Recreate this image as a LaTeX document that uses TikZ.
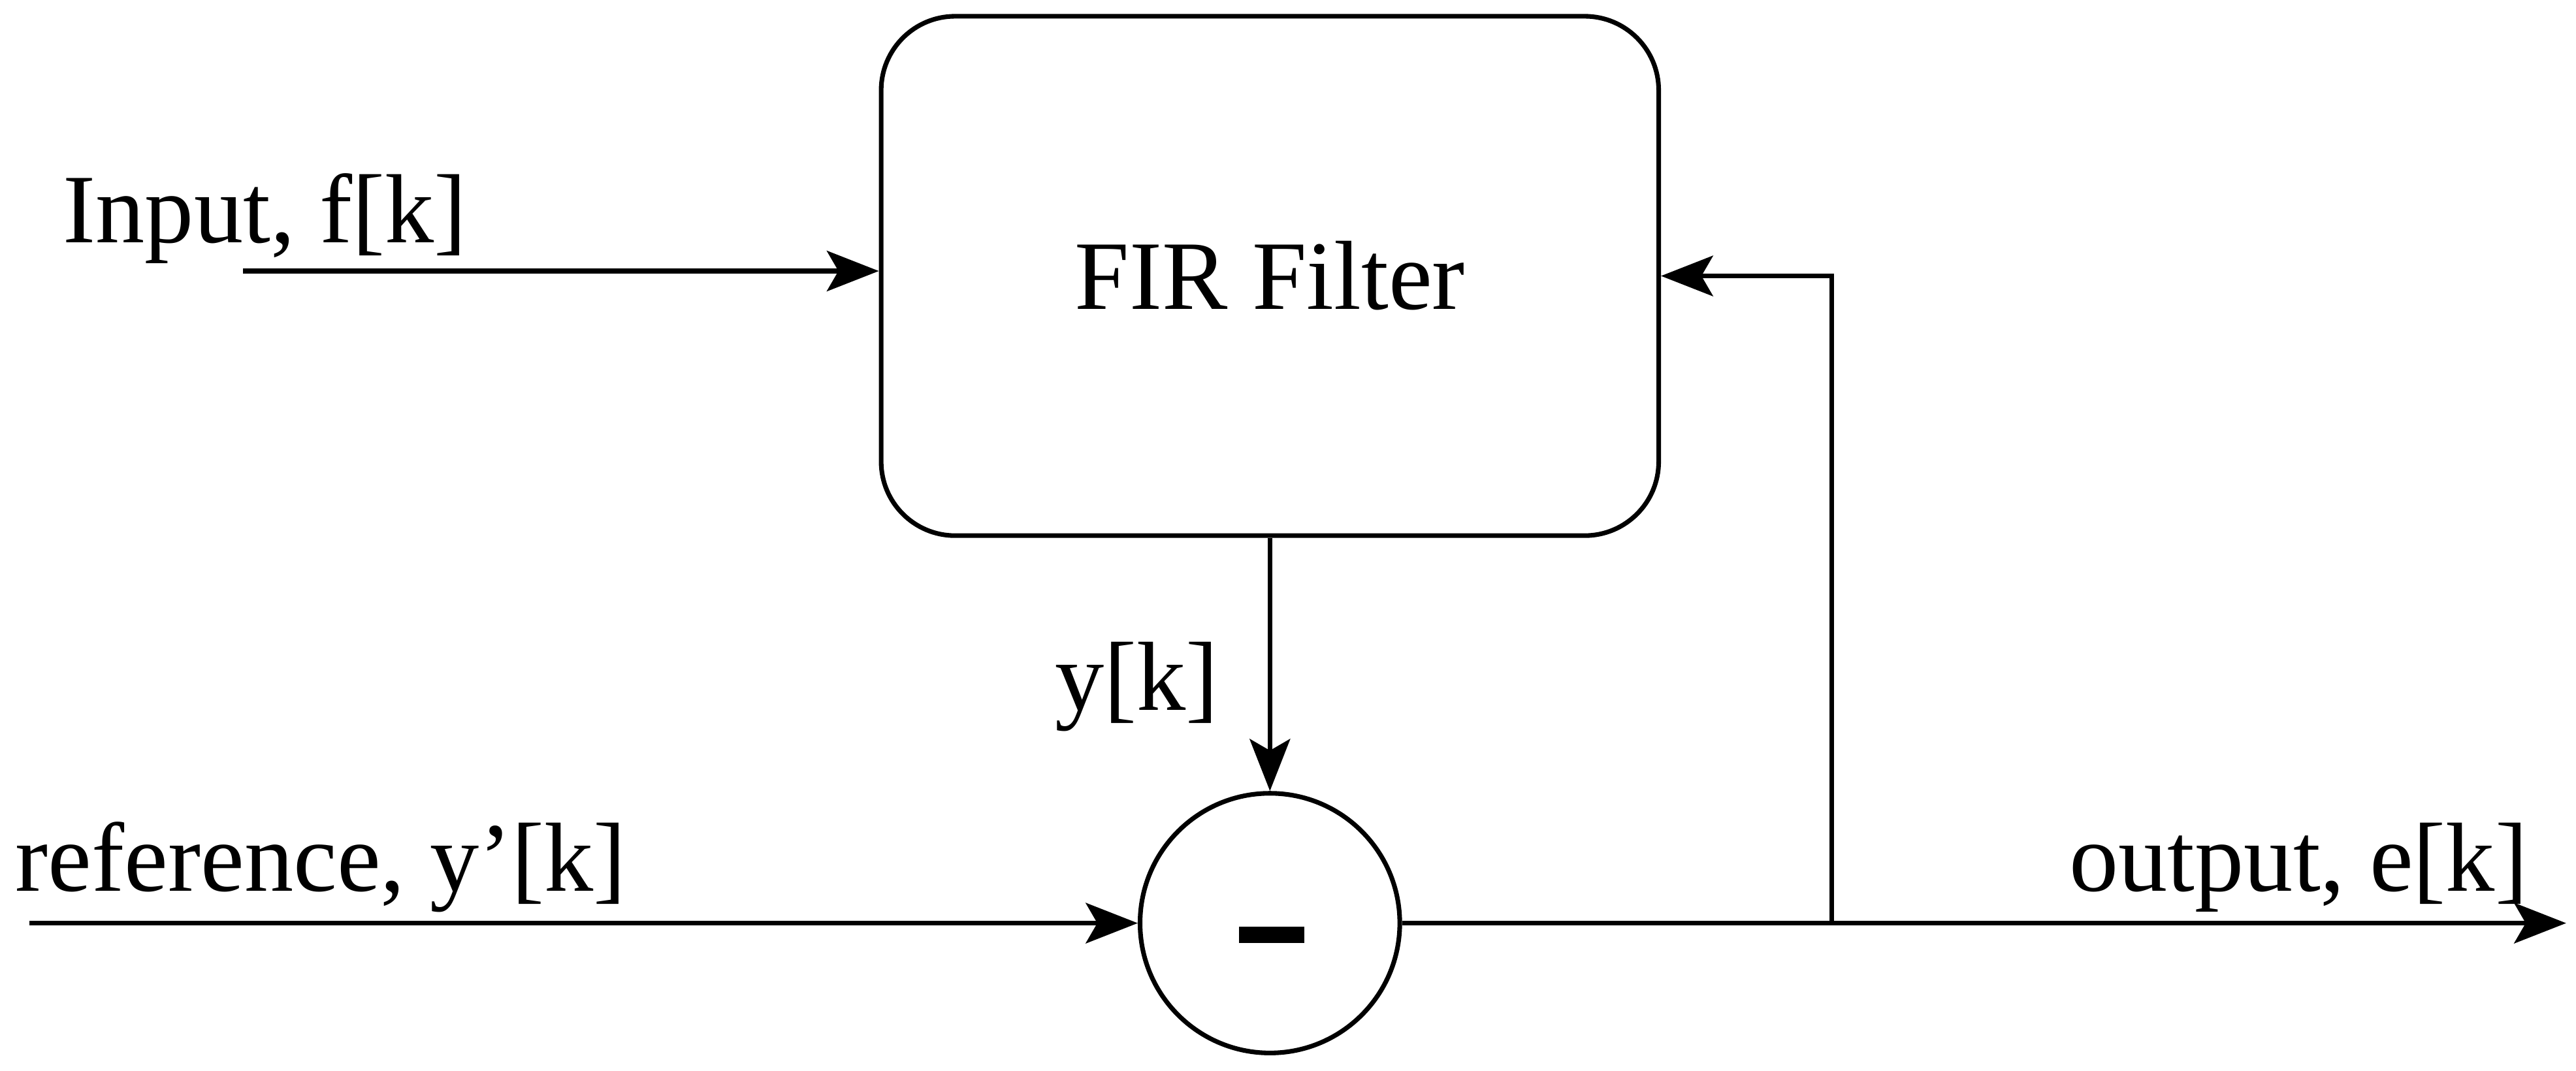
\documentclass[tikz,border=0pt]{standalone}
\usepackage{fontspec}
\setmainfont{Liberation Serif}
\usetikzlibrary{arrows.meta}
\begin{document}
\begin{tikzpicture}[x=0.01cm,y=-0.01cm,
  line width=0.8pt,
  arr/.style={-{Stealth[length=9pt,width=7pt,inset=2pt]}},
  lbl/.style={font=\fontsize{17}{20}\selectfont, inner sep=0pt}]
\useasboundingbox (0,0) rectangle (1568,652);
\node[draw, rounded corners=0.45cm, minimum width=4.73cm, minimum height=3.16cm, lbl] (fir) at (773,168) {FIR Filter};
\node[draw, circle, minimum size=1.58cm, inner sep=0pt] (sum) at (773,562) {};
\fill (754,564) rectangle (794,574);
\coordinate (in) at (148,165);
\coordinate (ref) at (18,562);
\coordinate (out) at (1562,562);
\coordinate (tap) at (1115,562);
\coordinate (tapup) at (1115,168);
\draw[arr] (in) -- (in -| fir.west);
\draw[arr] (fir.south) -- (sum.north);
\draw[arr] (ref) -- (sum.west);
\draw[arr] (sum.east) -- (out);
\draw[arr] (tap) -- (tapup) -- (fir.east |- tapup);
\node[lbl, anchor=west] (lin) at (37,133) {Input, f[k]};
\node[lbl] (ly) at (692,418) {y[k]};
\node[lbl, anchor=west] (lref) at (8,528) {reference, y'[k]};
\node[lbl, anchor=east] (lout) at (1540,528) {output, e[k]};
\end{tikzpicture}
\end{document}
